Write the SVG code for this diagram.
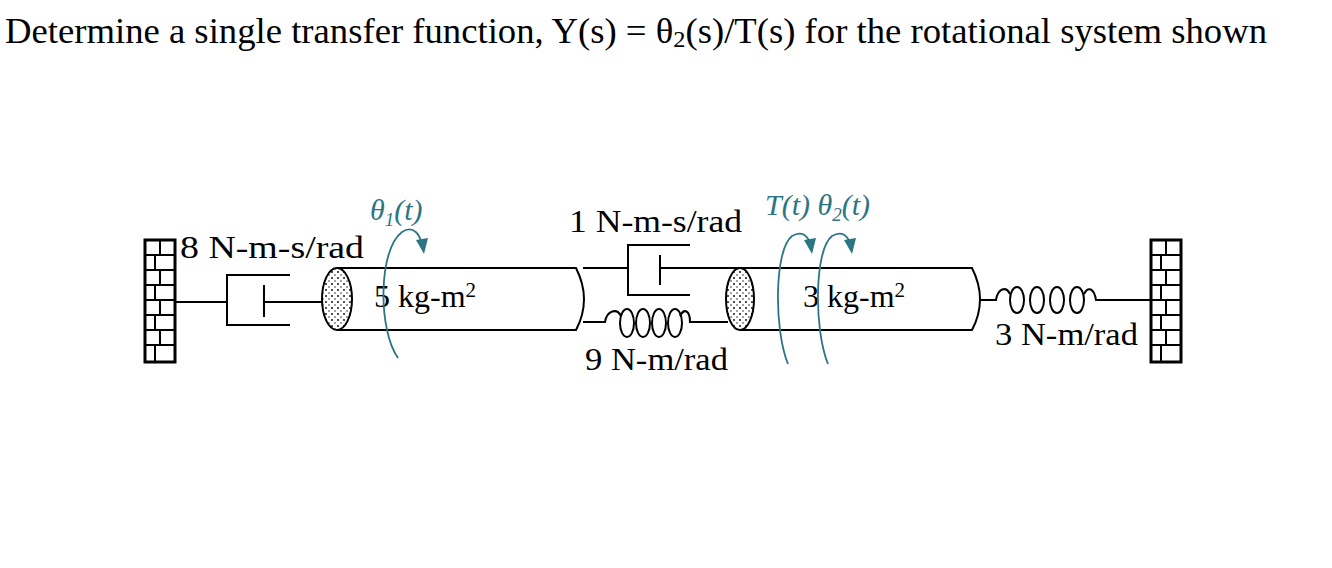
<svg xmlns="http://www.w3.org/2000/svg" width="1332" height="568" viewBox="0 0 1332 568">
<style>
.l{fill:none;stroke:#000;stroke-width:2}
.t{font-family:"Liberation Serif",serif;fill:#000}
.a{fill:none;stroke:#2c7583;stroke-width:1.8}
.ah{fill:#2c7583}
.lb{font-family:"Liberation Serif",serif;font-style:italic;fill:#2c7583;font-size:30px}
</style>
<defs>
<pattern id="dots" width="6" height="6" patternUnits="userSpaceOnUse"><rect width="6" height="6" fill="#fff"/><circle cx="2" cy="2" r="0.9" fill="#000"/><circle cx="5" cy="5" r="0.7" fill="#000"/></pattern>
<g id="wall"><rect x="0" y="0" width="30" height="122" fill="#fff" stroke="#000" stroke-width="3"/>
<path class="l" d="M0 15H30M0 30H30M0 45H30M0 60H30M0 75H30M0 90H30M0 105H30M15 0V15M10 15V30M15 30V45M10 45V60M15 60V75M10 75V90M15 90V105M10 105V122"/></g>
</defs>
<rect width="1332" height="568" fill="#fff"/>
<text class="t" x="5" y="43" font-size="36" textLength="1262" lengthAdjust="spacingAndGlyphs">Determine a single transfer function, Y(s) = θ<tspan font-size="24" dy="4">2</tspan><tspan dy="-4">(s)/T(s) for the rotational system shown</tspan></text>
<g id="wallL"><use href="#wall" x="145" y="240"/></g>
<g id="wallR"><use href="#wall" x="1151" y="240"/></g>
<g id="connectors">
<path class="l" d="M175 302H227M290 275H227V325H290M264 285V317M264 302H337"/>
<path class="l" d="M583 268H628M690 245H628V295H690M660 255V285M660 268H740"/>
<path class="l" d="M583 322H605c2-12 12-14 16-6M680 316c4-8 10-6 10 6H728"/>
<g class="l"><ellipse cx="627" cy="323" rx="7" ry="14"/><ellipse cx="643" cy="323" rx="7" ry="14"/><ellipse cx="659" cy="323" rx="7" ry="14"/><ellipse cx="675" cy="323" rx="7" ry="14"/></g>
<path class="l" d="M978 300H996c2-12 10-14 14-6M1084 294c4-8 10-6 12 6H1151"/>
<g class="l"><ellipse cx="1017" cy="300" rx="7" ry="13"/><ellipse cx="1037" cy="300" rx="7" ry="13"/><ellipse cx="1057" cy="300" rx="7" ry="13"/><ellipse cx="1077" cy="300" rx="7" ry="13"/></g>
</g>
<g id="inertia1">
<path d="M337 268H576Q584 284 584 299Q584 315 576 330H337" fill="#fff" stroke="#000" stroke-width="2"/>
<ellipse cx="337" cy="299" rx="15" ry="31" fill="url(#dots)" stroke="#000" stroke-width="2"/>
<text class="t" x="374" y="307" font-size="32">5 kg-m<tspan font-size="21" dy="-10">2</tspan></text>
<path class="a" d="M398 358C378 330 378 250 402 232C414 224 420 236 422 244"/>
<path class="ah" d="M416 240L428 238L424 254Z"/>
<text class="lb" x="370" y="220">θ<tspan font-size="19" dy="6">1</tspan><tspan dy="-6">(t)</tspan></text>
</g>
<g id="inertia2">
<path d="M740 268H972Q980 284 980 299Q980 315 972 330H740" fill="#fff" stroke="#000" stroke-width="2"/>
<ellipse cx="740" cy="299" rx="14" ry="31" fill="url(#dots)" stroke="#000" stroke-width="2"/>
<text class="t" x="803" y="307" font-size="32">3 kg-m<tspan font-size="21" dy="-10">2</tspan></text>
<path class="a" d="M788 364C774 330 774 250 792 236C802 230 808 236 810 244"/>
<path class="ah" d="M804 240L816 238L812 254Z"/>
<path class="a" d="M828 364C814 330 814 250 832 236C842 230 848 236 850 244"/>
<path class="ah" d="M844 240L856 238L852 254Z"/>
<text class="lb" x="765" y="215">T(t) θ<tspan font-size="19" dy="6">2</tspan><tspan dy="-6">(t)</tspan></text>
</g>
<text class="t" x="180" y="258" font-size="31" textLength="184" lengthAdjust="spacingAndGlyphs">8 N-m-s/rad</text>
<text class="t" x="569" y="232" font-size="31" textLength="173" lengthAdjust="spacingAndGlyphs">1 N-m-s/rad</text>
<text class="t" x="585" y="370" font-size="31" textLength="143" lengthAdjust="spacingAndGlyphs">9 N-m/rad</text>
<text class="t" x="995" y="345" font-size="31" textLength="143" lengthAdjust="spacingAndGlyphs">3 N-m/rad</text>
</svg>
